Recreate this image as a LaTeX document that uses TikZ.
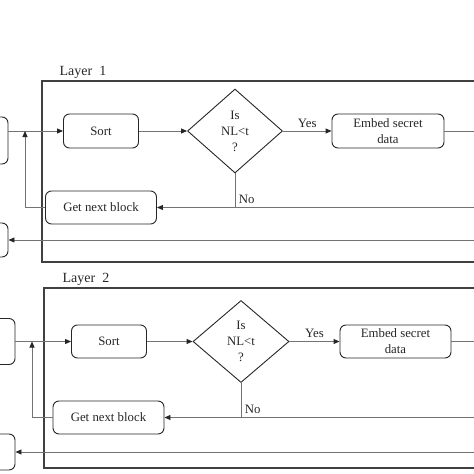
\documentclass[tikz,border=0pt]{standalone}
\usepackage{fontspec}
\setmainfont{Liberation Serif}
\usetikzlibrary{arrows.meta,positioning,shapes.geometric}
\tikzset{>/.tip={Triangle[length=6pt,width=5pt,color=black!85]}}
\tikzset{
  block/.style={draw=black!85,rounded corners=6pt,line width=0.9pt,minimum width=75pt,minimum height=34pt,align=center,inner sep=2pt},
  decision/.style={draw=black!85,diamond,line width=0.9pt,minimum width=95pt,minimum height=84pt,align=center,inner sep=0pt},
  frame/.style={draw=black!75,line width=1.3pt},
  link/.style={draw=black!55,line width=0.9pt},
  layertitle/.style={font=\fontsize{14}{16}\selectfont},
}
\begin{document}
\begin{tikzpicture}[x=1pt,y=-1pt,font=\fontsize{12.8}{16}\selectfont,text=black!85]
  \clip (0,0) rectangle (474,474);
  \coordinate(edge) at (490,0);
  % layer 1
  \draw[frame] (42,81) rectangle (490,262);
  \node(lay1)[layertitle] at (83,72){Layer\ \ 1};
  \node(in1)[block,minimum width=56pt,minimum height=47pt] at (-20,140.5){};
  \node(sort1)[block] at (101,131){Sort};
  \node(dec1)[decision] at (235,131){Is\\NL<t\\?};
  \node(emb1)[block,minimum width=112pt] at (388,131){Embed secret\\data};
  \node(next1)[block,minimum width=111pt,minimum height=33pt] at (101,207.5){Get next block};
  \node(out1)[block,minimum width=56pt] at (-20,240){};
  \coordinate(join1) at (25,131);
  \draw[link,->] (in1.east |- sort1) -- (sort1);
  \draw[link,->] (sort1) -- (dec1);
  \draw[link,->] (dec1) -- node[above]{Yes} (emb1);
  \draw[link] (emb1) -- (edge |- emb1);
  \draw[link] (dec1.south) -- node[pos=1,above right]{No} (dec1.south |- next1);
  \draw[link,->] (edge |- next1) -- (next1);
  \draw[link,->] (next1.west) -| (join1);
  \draw[link,->] (edge |- out1) -- (out1);
  % layer 2
  \draw[frame] (44,288) rectangle (490,468);
  \node(lay2)[layertitle] at (86,279){Layer\ \ 2};
  \node(in2)[block,minimum width=56pt,minimum height=46pt] at (-13,341.5){};
  \node(sort2)[block,minimum height=33pt] at (109,341.5){Sort};
  \node(dec2)[decision,minimum width=96pt,minimum height=82pt] at (241,341.5){Is\\NL<t\\?};
  \node(emb2)[block,minimum width=111pt,minimum height=33pt] at (395.5,341.5){Embed secret\\data};
  \node(next2)[block,minimum width=111pt,minimum height=33pt] at (108.5,417.5){Get next block};
  \node(out2)[block,minimum width=56pt,minimum height=36pt] at (-13,452){};
  \coordinate(join2) at (32,341.5);
  \draw[link,->] (in2.east |- sort2) -- (sort2);
  \draw[link,->] (sort2) -- (dec2);
  \draw[link,->] (dec2) -- node[above]{Yes} (emb2);
  \draw[link] (emb2) -- (edge |- emb2);
  \draw[link] (dec2.south) -- node[pos=1,above right]{No} (dec2.south |- next2);
  \draw[link,->] (edge |- next2) -- (next2);
  \draw[link,->] (next2.west) -| (join2);
  \draw[link,->] (edge |- out2) -- (out2);
\end{tikzpicture}
\end{document}
